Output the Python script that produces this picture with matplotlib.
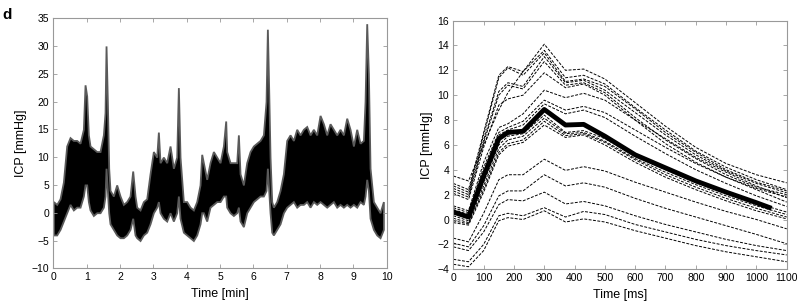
import matplotlib
matplotlib.use('Agg')
import matplotlib.pyplot as plt

plt.rcParams['font.family'] = ['Liberation Sans', 'DejaVu Sans']

# ---- left panel: ICP over 10 minutes (envelope of the dense signal) ----
t_min = [0.0, 0.1, 0.2, 0.3, 0.4, 0.5, 0.6, 0.7, 0.8, 0.9,
         0.95, 1.0, 1.05, 1.1, 1.2, 1.3, 1.4, 1.5, 1.55, 1.58,
         1.62, 1.66, 1.7, 1.8, 1.9, 2.0, 2.1, 2.2, 2.3, 2.38,
         2.45, 2.5, 2.6, 2.7, 2.8, 2.9, 3.0, 3.1, 3.15, 3.2,
         3.3, 3.4, 3.5, 3.6, 3.7, 3.75, 3.8, 3.9, 4.0, 4.1,
         4.2, 4.3, 4.4, 4.45, 4.5, 4.6, 4.7, 4.8, 4.9, 5.0,
         5.1, 5.17, 5.2, 5.3, 5.4, 5.5, 5.55, 5.6, 5.7, 5.8,
         5.9, 6.0, 6.1, 6.2, 6.3, 6.38, 6.42, 6.46, 6.5, 6.55,
         6.6, 6.7, 6.8, 6.9, 7.0, 7.1, 7.2, 7.3, 7.4, 7.5,
         7.6, 7.7, 7.8, 7.9, 8.0, 8.1, 8.2, 8.3, 8.4, 8.5,
         8.6, 8.7, 8.8, 8.9, 9.0, 9.1, 9.2, 9.3, 9.35, 9.4,
         9.45, 9.5, 9.6, 9.7, 9.8, 9.9]
icp_hi = [2.0, 1.5, 2.5, 5.5, 12.0, 13.5, 13.0, 13.0, 12.5, 15.0,
          23.0, 21.0, 14.0, 12.0, 11.5, 11.0, 11.0, 14.0, 18.0, 30.0,
          20.0, 8.0, 4.0, 3.0, 5.0, 3.0, 1.5, 2.0, 3.0, 7.5,
          3.0, 1.0, 0.5, 2.0, 2.5, 7.0, 11.0, 10.0, 14.5, 9.0,
          10.0, 9.0, 12.0, 8.0, 10.0, 22.5, 10.0, 2.0, 2.0, 1.0,
          0.5, 2.0, 5.0, 10.5, 9.0, 6.0, 9.0, 11.0, 10.0, 9.0,
          12.0, 16.5, 11.0, 9.0, 9.0, 9.0, 14.0, 7.0, 5.0, 9.0,
          11.0, 12.0, 12.5, 13.0, 14.0, 20.0, 33.0, 22.0, 10.0, 2.0,
          1.0, 2.0, 4.0, 7.0, 13.0, 14.0, 13.0, 15.0, 14.0, 15.0,
          15.5, 14.0, 15.0, 14.0, 17.5, 16.0, 14.0, 16.0, 15.0, 14.0,
          15.0, 14.0, 17.0, 15.0, 12.0, 15.0, 12.5, 13.0, 20.0, 34.0,
          25.0, 8.0, 2.0, 1.0, 0.0, 2.0]
icp_lo = [-4.0, -4.0, -3.0, -1.5, 0.0, 1.5, 0.5, 1.0, 1.0, 3.0,
          5.0, 5.0, 2.0, 0.5, -0.5, 0.0, 0.0, 1.0, 3.0, 8.0,
          4.0, 0.0, -2.0, -3.0, -4.0, -4.5, -4.5, -4.0, -3.0, -1.0,
          -4.0, -4.5, -5.0, -4.0, -3.5, -2.0, 0.0, 1.0, 2.0, 0.0,
          -1.0, -1.5, 0.0, -1.5, 0.0, 3.0, -1.0, -3.5, -4.0, -4.5,
          -5.0, -4.0, -2.0, 0.0, 0.0, -1.5, 1.0, 1.5, 2.0, 2.0,
          3.0, 3.0, 1.0, 0.0, -0.5, 0.0, 1.0, -1.5, -2.5, 0.0,
          1.0, 2.0, 2.5, 3.0, 3.0, 4.0, 8.0, 4.0, 0.0, -3.5,
          -4.0, -3.0, -2.0, 0.0, 1.0, 1.5, 2.0, 1.0, 1.5, 1.5,
          2.0, 1.0, 2.0, 1.5, 2.0, 1.5, 1.0, 1.5, 2.0, 1.0,
          1.5, 1.0, 1.5, 1.0, 1.5, 1.0, 2.0, 1.5, 3.0, 6.0,
          4.0, -1.0, -3.0, -4.0, -4.5, -3.0]

# ---- right panel: single pulses (dashed) and their mean (thick) ----
t_ms = [0, 50, 100, 150, 180, 230, 300, 370, 430, 500, 600, 700, 800, 900, 1000, 1100]
pulses = [
    [3.5, 3.1, 6.0, 8.8, 10.2, 11.9, 14.1, 12.0, 12.1, 11.3, 9.4, 7.5, 5.8, 4.5, 3.6, 2.95],
    [2.9, 2.4, 7.0, 11.6, 12.3, 11.9, 13.6, 11.4, 11.6, 10.9, 9.0, 7.2, 5.5, 4.2, 3.2, 2.4],
    [2.7, 2.2, 6.8, 11.4, 12.2, 11.6, 13.4, 11.1, 11.3, 10.7, 8.9, 7.0, 5.4, 4.0, 3.0, 2.3],
    [2.5, 2.0, 6.4, 10.3, 11.0, 10.7, 13.1, 11.0, 11.2, 10.4, 8.6, 6.8, 5.2, 3.9, 2.9, 2.15],
    [2.3, 1.8, 6.2, 10.0, 10.8, 10.5, 12.7, 10.8, 11.0, 10.2, 8.2, 6.4, 4.9, 3.6, 2.6, 2.0],
    [2.1, 1.6, 5.8, 9.2, 9.7, 10.0, 11.8, 10.6, 10.9, 10.0, 8.0, 6.1, 4.6, 3.4, 2.5, 1.8],
    [1.1, 0.7, 4.6, 7.4, 7.7, 8.5, 10.4, 9.8, 10.15, 9.6, 8.0, 6.5, 5.0, 3.8, 2.7, 1.75],
    [0.95, 0.55, 4.2, 7.0, 7.4, 7.9, 9.6, 8.8, 9.1, 8.6, 7.2, 5.8, 4.5, 3.4, 2.4, 1.4],
    [0.8, 0.4, 3.9, 6.8, 7.2, 7.6, 9.3, 8.5, 8.8, 8.2, 6.7, 5.3, 4.0, 2.9, 1.9, 1.05],
    [0.3, -0.1, 3.0, 6.0, 6.7, 6.9, 8.4, 7.0, 7.15, 6.5, 5.1, 4.0, 3.0, 2.1, 1.3, 0.6],
    [0.1, -0.25, 2.7, 5.7, 6.4, 6.7, 8.15, 6.9, 7.0, 6.3, 4.9, 3.8, 2.8, 1.9, 1.1, 0.4],
    [-0.1, -0.35, 2.4, 5.4, 6.1, 6.4, 7.9, 6.75, 6.9, 6.2, 4.8, 3.6, 2.6, 1.7, 0.9, 0.2],
    [-0.25, -0.45, 2.2, 5.2, 5.9, 6.2, 7.6, 6.6, 6.8, 6.0, 4.6, 3.4, 2.4, 1.5, 0.7, 0.05],
    [-1.5, -1.8, 0.5, 3.2, 3.6, 3.6, 4.85, 3.95, 4.25, 3.9, 3.0, 2.2, 1.4, 0.65, 0.0, -0.75],
    [-1.9, -2.2, -0.5, 1.9, 2.3, 2.3, 3.6, 2.7, 2.95, 2.6, 1.7, 0.9, 0.2, -0.5, -1.2, -1.95],
    [-2.2, -2.5, -1.0, 1.2, 1.6, 1.5, 2.2, 1.25, 1.45, 1.1, 0.3, -0.4, -1.0, -1.6, -2.1, -2.5],
    [-3.2, -3.4, -2.0, 0.3, 0.5, 0.3, 0.95, 0.2, 0.65, 0.4, -0.4, -1.0, -1.6, -2.1, -2.5, -2.85],
    [-3.6, -3.8, -2.5, -0.1, 0.15, 0.0, 0.7, -0.2, 0.05, -0.2, -0.9, -1.5, -2.1, -2.6, -3.0, -3.4],
]
t_mean = [0, 50, 100, 150, 180, 230, 300, 370, 430, 500, 600, 700, 800, 900, 1000, 1050]
pulse_mean = [0.6, 0.2, 3.5, 6.5, 7.0, 7.1, 8.85, 7.6, 7.65, 6.7, 5.2, 4.15, 3.1, 2.2, 1.35, 0.9]

fig = plt.figure(figsize=(8, 3.07), dpi=100)
ax1 = fig.add_axes([0.0667, 0.126, 0.4167, 0.815])
ax2 = fig.add_axes([0.5667, 0.123, 0.4167, 0.810])

# gray rim around the black band, like the anti-aliased trace in the original
ax1.fill_between(t_min, icp_lo, icp_hi, facecolor='black', edgecolor='#5a5a5a',
                 linewidth=1.3, joinstyle='miter')
ax1.set_xlim(0, 10)
ax1.set_ylim(-10, 35)
ax1.set_xticks(range(0, 11))
ax1.set_yticks(range(-10, 36, 5))
ax1.set_xlabel('Time [min]', fontsize=9, labelpad=4)
ax1.set_ylabel('ICP [mmHg]', fontsize=9, labelpad=3)

for p in pulses:
    ax2.plot(t_ms, p, color='black', linewidth=0.7, linestyle='--', dashes=(3, 1.5))
ax2.plot(t_mean, pulse_mean, color='black', linewidth=3.5, solid_capstyle='butt')
ax2.set_xlim(0, 1100)
ax2.set_ylim(-4, 16)
ax2.set_xticks(range(0, 1101, 100))
ax2.set_yticks(range(-4, 17, 2))
ax2.set_xlabel('Time [ms]', fontsize=9, labelpad=4)
ax2.set_ylabel('ICP [mmHg]', fontsize=9, labelpad=3)

for ax in (ax1, ax2):
    for s in ax.spines.values():
        s.set_color('#999999')
        s.set_linewidth(0.8)
    ax.tick_params(direction='in', top=True, right=True, length=3, width=0.6,
                   color='#999999', labelsize=7.5, pad=3, labelcolor='black')

fig.text(0.003, 0.975, 'd', fontsize=11, fontweight='bold', va='top', ha='left')

fig.savefig('out.png', dpi=100)
